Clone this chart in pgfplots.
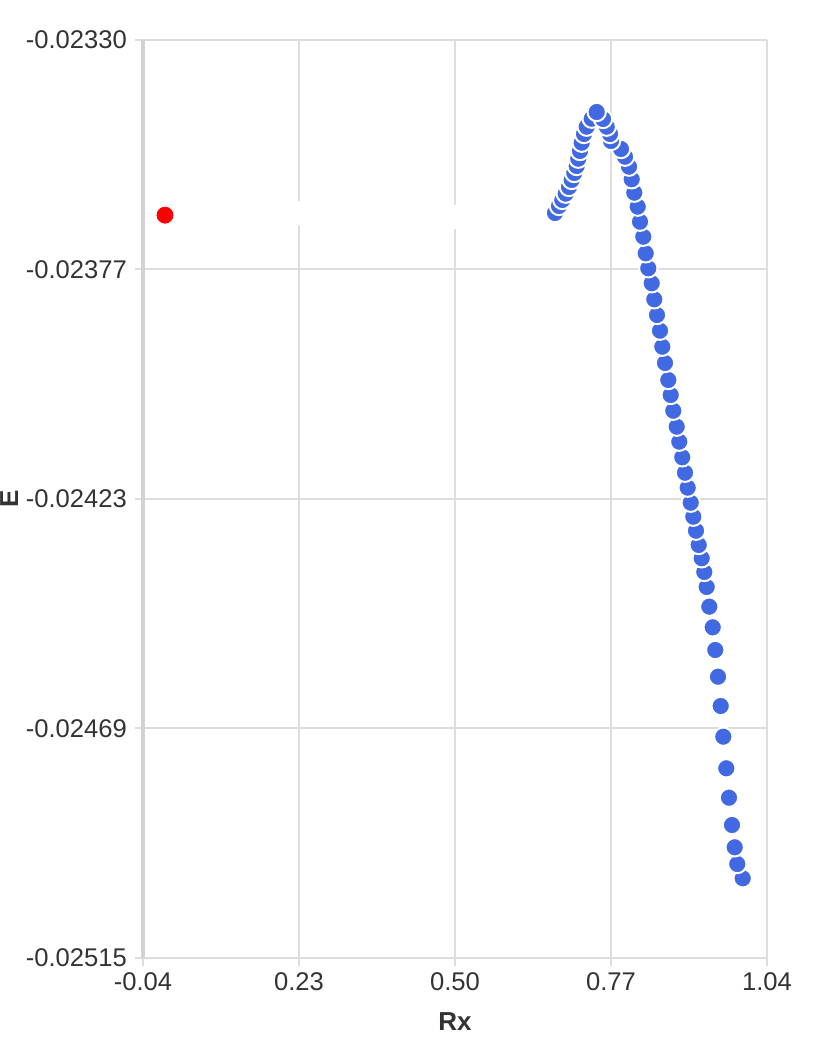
\documentclass[border=0pt]{standalone}
\usepackage{pgfplots}
\pgfplotsset{compat=1.18}
\usepackage{fontspec}
\setmainfont{Liberation Sans}

\definecolor{gridc}{HTML}{DDDDDD}
\definecolor{axc}{HTML}{D2D2D2}
\definecolor{txt}{HTML}{333333}
\definecolor{blu}{HTML}{4169E1}

\begin{document}
\begin{tikzpicture}
\begin{axis}[
  at={(71.5pt,46pt)}, anchor=south west,
  scale only axis,
  width=312pt, height=459pt,
  xmin=-0.04, xmax=1.04,
  ymin=-0.02515, ymax=-0.02330,
  xtick={-0.04,0.23,0.50,0.77,1.04},
  xticklabels={-0.04,0.23,0.50,0.77,1.04},
  ytick={-0.02515,-0.0246875,-0.024225,-0.0237625,-0.02330},
  yticklabels={-0.02515,-0.02469,-0.02423,-0.02377,-0.02330},
  scaled ticks=false,
  axis x line*=bottom, axis y line*=left,
  x axis line style={draw=gridc, line width=1pt},
  y axis line style={draw=axc, line width=2pt},
  grid=major,
  major grid style={draw=gridc, line width=1pt},
  tick align=outside,
  major tick length=4pt,
  tick style={draw=gridc, line width=1pt},
  ticklabel style={font=\fontsize{12.8}{15}\selectfont, text=txt},
  yticklabel style={xshift=-0.5pt},
  xlabel={Rx}, ylabel={E},
  label style={font=\fontsize{13}{15}\selectfont\bfseries, text=txt},
  xlabel style={at={(axis description cs:0.5,0)}, anchor=center, yshift=-32pt},
  ylabel style={at={(axis description cs:-0.2145,0.5)}, anchor=center},
]
% white points
\addplot[only marks, mark=*, mark size=6pt, mark options={fill=white, draw=white}]
coordinates {
(0.03269,-0.02365) (0.07596,-0.02365) (0.11923,-0.02365) (0.16250,-0.02365)
(0.20577,-0.02365) (0.23173,-0.0236496) (0.25769,-0.02365) (0.30096,-0.02365)
(0.34423,-0.02365) (0.38750,-0.02365) (0.43077,-0.02365) (0.47404,-0.02365)
(0.50173,-0.0236567) (0.53462,-0.02365) (0.57788,-0.02365) (0.62115,-0.02365)
};
% red point
\addplot[only marks, mark=*, mark size=4pt, mark options={fill=red, draw=red}]
coordinates {(-0.0019,-0.023653)};
% blue points
\addplot[only marks, mark=*, mark size=4.6pt, mark options={fill=blu, draw=white, line width=1pt}]
coordinates {
(0.99794,-0.0249894) (0.98860,-0.0249606) (0.98410,-0.0249269) (0.97942,-0.0248820)
(0.97423,-0.0248270) (0.96956,-0.0247677) (0.96437,-0.0247040) (0.95987,-0.0246422)
(0.95519,-0.0245831) (0.95052,-0.0245293) (0.94602,-0.0244836) (0.94013,-0.0244420)
(0.93563,-0.0244023) (0.93148,-0.0243721) (0.92698,-0.0243445) (0.92179,-0.0243177)
(0.91712,-0.0242889) (0.91244,-0.0242607) (0.90794,-0.0242325) (0.90275,-0.0242022)
(0.89808,-0.0241720) (0.89340,-0.0241410) (0.88821,-0.0241095) (0.88371,-0.0240793)
(0.87783,-0.0240471) (0.87333,-0.0240154) (0.86917,-0.0239852) (0.86346,-0.0239509)
(0.85879,-0.0239181) (0.85481,-0.0238858) (0.84962,-0.0238542) (0.84494,-0.0238226)
(0.84044,-0.0237903) (0.83456,-0.0237601) (0.83006,-0.0237299) (0.82590,-0.0236964)
(0.82019,-0.0236662) (0.81621,-0.0236359) (0.81033,-0.0236077) (0.80583,-0.0235807)
(0.80115,-0.0235553) (0.79423,-0.0235352) (0.78731,-0.0235197)
(0.67308,-0.0236486) (0.68000,-0.0236345) (0.68571,-0.0236224) (0.69160,-0.0236097)
(0.69731,-0.0235962) (0.70198,-0.0235821) (0.70648,-0.0235680) (0.71063,-0.0235539)
(0.71340,-0.0235392) (0.71635,-0.0235237) (0.71929,-0.0235070) (0.72327,-0.0234894)
(0.72794,-0.0234747) (0.73660,-0.0234586)
(0.77000,-0.0235035) (0.76827,-0.0234894) (0.76256,-0.0234747) (0.75615,-0.0234592)
(0.74525,-0.0234451)
};
\end{axis}
\pgfresetboundingbox
\path[use as bounding box] (0,0) rectangle (410pt,525pt);
\end{tikzpicture}
\end{document}
